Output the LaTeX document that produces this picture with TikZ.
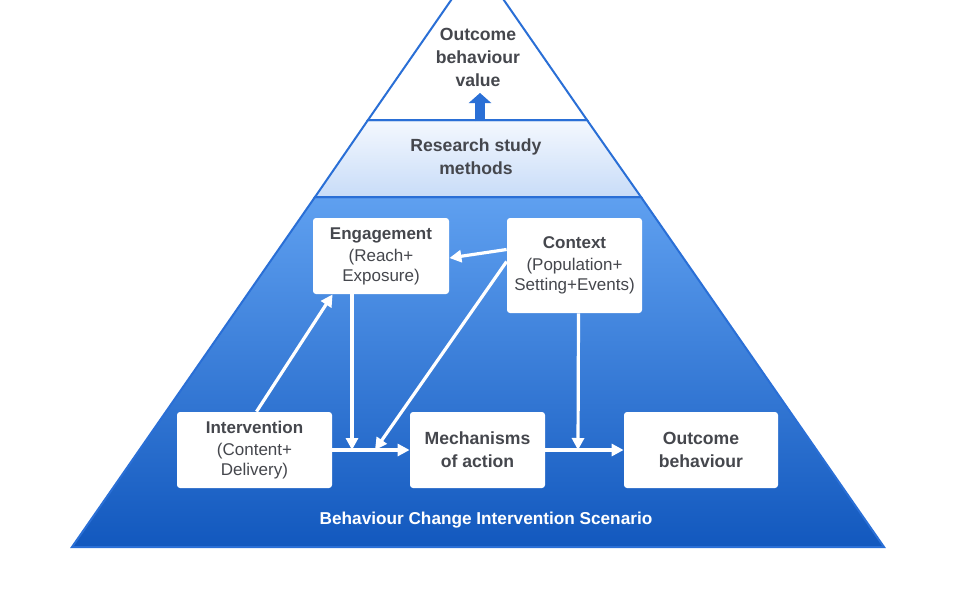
\documentclass[tikz,border=0pt]{standalone}
\usepackage{fontspec}
\setmainfont{Liberation Sans}
\usetikzlibrary{arrows.meta}
\definecolor{txt}{HTML}{45474D}
\definecolor{edge}{HTML}{2A6FD6}
\tikzset{
 box/.style={draw=none,fill=white,rounded corners=1.5pt,align=center,text=txt,font=\fontsize{8.5}{10}\selectfont,inner sep=0pt},
 conn/.style={draw=white,line width=1.6pt,-{Triangle[length=6pt,width=6pt]}},
 lab/.style={align=center,text=txt,font=\bfseries\fontsize{8.8}{11.5}\selectfont}
}
\begin{document}
\begin{tikzpicture}[x=0.5pt,y=-0.5pt]
\useasboundingbox (0,0) rectangle (964,600);
\clip (0,0) rectangle (964,600);
% bottom
\shade[top color={rgb,255:red,95;green,160;blue,240},bottom color={rgb,255:red,18;green,88;blue,190}] (315,197) -- (641,197) -- (884,547) -- (72,547) -- cycle;
\draw[edge,line width=1pt] (315,197) -- (641,197) -- (884,547) -- (72,547) -- cycle;
% middle
\shade[top color={rgb,255:red,244;green,248;blue,254},bottom color={rgb,255:red,200;green,220;blue,248}] (368,120) -- (587,120) -- (641,197) -- (315,197) -- cycle;
\draw[edge,line width=1pt] (368,120) -- (587,120) -- (641,197) -- (315,197) -- cycle;
% top
\fill[white] (477.5,-38) -- (587,120) -- (368,120) -- cycle;
\draw[edge,line width=1pt] (477.5,-38) -- (587,120) -- (368,120) -- cycle;
\node[lab] (outv) at (478,57) {Outcome\\behaviour\\value};
\node[lab] (rsm) at (476,157) {Research study\\methods};
\coordinate (ba) at (480,121);
\coordinate (bb) at (480,93);
\draw[edge,line width=5pt,-{Triangle[length=5pt,width=11pt]}] (ba) -- (bb);
% boxes
\node[box,minimum width=68pt,minimum height=38pt] (eng) at (381,256) {\textbf{Engagement}\\[1pt](Reach+\\Exposure)};
\node[box,minimum width=67.5pt,minimum height=47.5pt] (ctx) at (574.5,265.5) {\textbf{Context}\\[1pt](Population+\\Setting+Events)};
\node[box,minimum width=77.5pt,minimum height=38pt] (int) at (254.5,450) {\textbf{Intervention}\\[1pt](Content+\\Delivery)};
\node[box,minimum width=67.5pt,minimum height=38pt,font=\bfseries\fontsize{8.8}{11.5}\selectfont] (mech) at (477.5,450) {Mechanisms\\of action};
\node[box,minimum width=77pt,minimum height=38pt,font=\bfseries\fontsize{8.8}{11.5}\selectfont] (outb) at (701,450) {Outcome\\behaviour};
\node[font=\bfseries\fontsize{8.6}{10}\selectfont,text=white] (scen) at (486,520) {Behaviour Change Intervention Scenario};
% connectors
\coordinate (m1) at (352,450);
\coordinate (m2) at (375,450);
\coordinate (m3) at (578,450);
\draw[conn] (int.north) ++(2,0) -- ([xshift=10pt]eng.south west);
\draw[conn] ([xshift=-14.5pt]eng.south) -- (m1);
\draw[conn] ([yshift=8pt]ctx.west) -- ([yshift=-1pt]eng.east);
\draw[conn] ([yshift=2pt]ctx.west) -- (m2);
\draw[conn] ([xshift=2pt]ctx.south) -- (m3);
\draw[conn] (int.east) -- (mech.west);
\draw[conn] (mech.east) -- (outb.west);
\end{tikzpicture}
\end{document}
